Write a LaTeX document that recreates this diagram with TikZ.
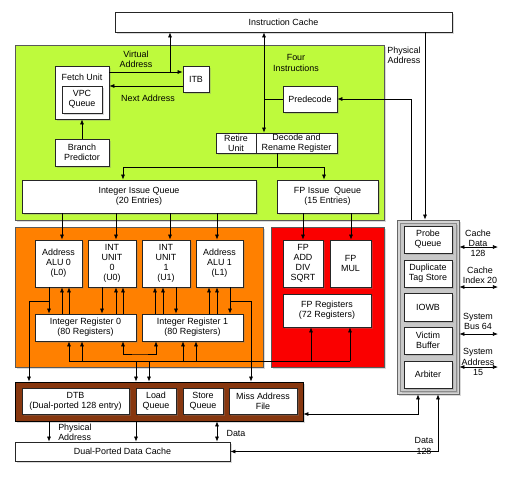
\documentclass[tikz,border=0pt]{standalone}
\usepackage{fontspec}
\setmainfont{Liberation Sans}
\usetikzlibrary{arrows.meta,shadows}
\definecolor{cgreen}{RGB}{190,250,60}
\definecolor{corange}{RGB}{255,128,0}
\definecolor{cred}{RGB}{250,0,0}
\definecolor{cbrown}{RGB}{135,55,15}
\definecolor{cgrayfill}{RGB}{212,212,212}
\definecolor{cgrayin}{RGB}{200,200,200}
% [style]{name}{x1}{y1}{x2}{y2}{text}
\newcommand\bx[7][box]{\node[#1,minimum width={(#5-#3)*0.75pt},minimum height={(#6-#4)*0.75pt}] (#2) at ({(#3+#5)/2},{(#4+#6)/2}) {#7};}
\begin{document}
\begin{tikzpicture}[x=0.75pt,y=-0.75pt,
  font=\fontsize{6.7}{7.6}\selectfont,
  shad/.style={drop shadow={shadow xshift=1.3pt,shadow yshift=-1.3pt,opacity=0.3}},
  box/.style={draw=black!85,fill=white,line width=0.5pt,inner sep=0pt,align=center,shad},
  region/.style={draw=black!65,line width=0.5pt,inner sep=0pt,shad},
  ln/.style={line width=0.5pt},
  arr/.style={ln,-{Latex[length=3.8pt,width=3pt]}},
  darr/.style={ln,{Latex[length=3.8pt,width=3pt]}-{Latex[length=3.8pt,width=3pt]}},
  lbl/.style={align=center,inner sep=0pt}]
\useasboundingbox (0,0) rectangle (511,480);

% regions
\bx[region,fill=cgreen]{green}{15}{45}{384}{220}{}
\bx[region,fill=corange]{orange}{15}{227}{263}{367}{}
\bx[region,fill=cred]{red}{271}{227}{384}{367}{}
\bx[region,fill=cbrown,draw=black]{brown}{15}{382}{303}{421}{}
\bx[region,fill=cgrayfill,draw=black!60]{gray}{397}{220}{459}{394}{}
\bx[region,fill=cgrayin,draw=black!45,drop shadow={opacity=0}]{grayin}{400}{223}{456}{391}{}

% top
\bx{ic}{115}{12}{452}{32}{Instruction Cache}
\bx{fetch}{55}{66}{109}{119}{}
\node[lbl] (fetchlbl) at (82,77) {Fetch Unit};
\bx{vpc}{62}{86}{102}{113}{VPC\\Queue}
\bx{itb}{183}{66}{209}{92}{ITB}
\bx{bp}{55}{139}{109}{166}{Branch\\Predictor}
\bx{pre}{283}{86}{337}{112}{Predecode}
\bx{retire}{216}{133}{256}{153}{Retire\\Unit}
\bx{decode}{256}{133}{337}{153}{Decode and\\Rename Register}
\bx{iiq}{22}{180}{256}{213}{Integer Issue Queue\\(20 Entries)}
\bx{fiq}{277}{180}{378}{213}{FP Issue\ \ Queue\\(15 Entries)}

\node[lbl] (va) at (136,59) {Virtual\\Address};
\node[lbl] (na) at (148,98) {Next Address};
\node[lbl] (four) at (296,63) {Four\\Instructions};
\node[lbl] (pa1) at (404,55) {Physical\\Address};

% orange
\bx{l0}{35}{240}{82}{287}{Address\\ALU 0\\(L0)}
\bx{u0}{88}{240}{136}{287}{INT\\UNIT\\0\\(U0)}
\bx{u1}{142}{240}{190}{287}{INT\\UNIT\\1\\(U1)}
\bx{l1}{196}{240}{243}{287}{Address\\ALU 1\\(L1)}
\bx{ir0}{35}{314}{136}{341}{Integer Register 0\\(80 Registers)}
\bx{ir1}{142}{314}{243}{341}{Integer Register 1\\(80 Registers)}

% red
\bx{fpadd}{283}{240}{323}{287}{FP\\ADD\\DIV\\SQRT}
\bx{fpmul}{330}{240}{371}{287}{FP\\MUL}
\bx{fpreg}{283}{294}{371}{327}{FP Registers\\(72 Registers)}

% gray
\bx{probe}{404}{226}{452}{253}{Probe\\Queue}
\bx{dup}{404}{260}{452}{287}{Duplicate\\Tag Store}
\bx{iowb}{404}{293}{452}{321}{IOWB}
\bx{victim}{404}{327}{452}{354}{Victim\\Buffer}
\bx{arb}{404}{361}{452}{388}{Arbiter}

% brown
\bx{dtb}{22}{388}{129}{414}{DTB\\(Dual-ported 128 entry)}
\bx{lq}{136}{388}{176}{414}{Load\\Queue}
\bx{sq}{183}{388}{223}{414}{Store\\Queue}
\bx{maf}{229}{388}{297}{414}{Miss Address\\File}

\bx{dc}{15}{442}{230}{461}{Dual-Ported Data Cache}

% right labels
\node[lbl] (cd) at (478,243) {Cache\\Data\\128};
\node[lbl] (ci) at (480,275) {Cache\\Index 20};
\node[lbl] (sb) at (478,321) {System\\Bus 64};
\node[lbl] (sa) at (478,362) {System\\Address\\15};
\node[lbl,anchor=west,align=left] (pa2) at (58,432) {Physical\\Address};
\node[lbl] (dlbl) at (236,433) {Data};
\node[lbl] (d128) at (424,446) {Data\\128};

\coordinate (rcd) at (498,247);
\coordinate (rci) at (498,287);
\coordinate (rsb) at (498,334);
\coordinate (rsa) at (498,367);

% connectors: green area
\draw[arr] (fetch.east |- 0,72) -- (itb.west |- 0,72);
\draw[arr] (itb.west |- 0,86) -- (fetch.east |- 0,86);
\coordinate (vaj) at (170,72);
\draw[arr] (vaj) -- (ic.south -| 170,0);
\draw[darr] (ic.south -| 264,0) -- (decode.north -| 264,0);
\draw[ln] (pre.west) -- (264,99);
\draw[arr] (gray.north -| 411,0) |- (pre.east);
\draw[arr] (ic.south -| 425,0) -- (gray.north -| 425,0);
\draw[arr] (bp.north) -- (fetch.south);
\coordinate (dj) at (277,167);
\draw[ln] (decode.south -| 277,0) -- (dj);
\draw[arr] (dj) -| (iiq.north -| 123,0);
\draw[arr] (dj) -| (fiq.north -| 324,0);

% issue queues to units
\foreach \x/\n in {62/l0,116/u0,170/u1,217/l1}
  \draw[arr] (iiq.south -| \x,0) -- (\n.north -| \x,0);
\draw[arr] (fiq.south -| 303,0) -- (fpadd.north -| 303,0);
\draw[arr] (fiq.south -| 351,0) -- (fpmul.north -| 351,0);

% units <-> registers
\draw[arr] (l0.south -| 49,0) -- (ir0.north -| 49,0);
\draw[arr] (ir0.north -| 62,0) -- (l0.south -| 62,0);
\draw[arr] (ir0.north -| 69,0) -- (l0.south -| 69,0);
\draw[arr] (u0.south -| 102,0) -- (ir0.north -| 102,0);
\draw[arr] (ir0.north -| 116,0) -- (u0.south -| 116,0);
\draw[arr] (ir0.north -| 123,0) -- (u0.south -| 123,0);
\draw[arr] (ir1.north -| 155,0) -- (u1.south -| 155,0);
\draw[arr] (ir1.north -| 163,0) -- (u1.south -| 163,0);
\draw[arr] (u1.south -| 176,0) -- (ir1.north -| 176,0);
\draw[arr] (ir1.north -| 209,0) -- (l1.south -| 209,0);
\draw[arr] (ir1.north -| 217,0) -- (l1.south -| 217,0);
\draw[arr] (l1.south -| 230,0) -- (ir1.north -| 230,0);

% address paths to brown
\draw[arr] (49,301) -| (brown.north -| 29,0);
\draw[arr] (230,301) -| (brown.north -| 251,0);

% register link
\draw[darr] (ir0.south -| 123,0) |- (140,354) -| (ir1.south -| 156,0);

% result bus
\draw[ln] (69,361) -- (350,361);
\draw[arr] (69,361) -- (ir0.south -| 69,0);
\draw[arr] (82,361) -- (ir0.south -| 82,0);
\draw[arr] (183,361) -- (ir1.south -| 183,0);
\draw[arr] (196,361) -- (ir1.south -| 196,0);
\draw[arr] (311,361) -- (fpreg.south -| 311,0);
\draw[arr] (350,361) -- (fpreg.south -| 350,0);
\draw[arr] (136,361) -- (brown.north -| 136,0);
\draw[arr] (149,361) -- (brown.north -| 149,0);

% brown to data cache
\draw[arr] (brown.south -| 49,0) -- (dc.north -| 49,0);
\draw[arr] (brown.south -| 136,0) -- (dc.north -| 136,0);
\draw[darr] (brown.south -| 217,0) -- (dc.north -| 217,0);

% gray box links
\draw[darr] (brown.east |- 0,414) -| (gray.south -| 418,0);
\draw[darr] (dc.east) -| (gray.south -| 438,0);

% external
\draw[darr] (gray.east |- rcd) -- (rcd);
\draw[darr] (gray.east |- rci) -- (rci);
\draw[darr] (gray.east |- rsb) -- (rsb);
\draw[darr] (gray.east |- rsa) -- (rsa);
\end{tikzpicture}
\end{document}
